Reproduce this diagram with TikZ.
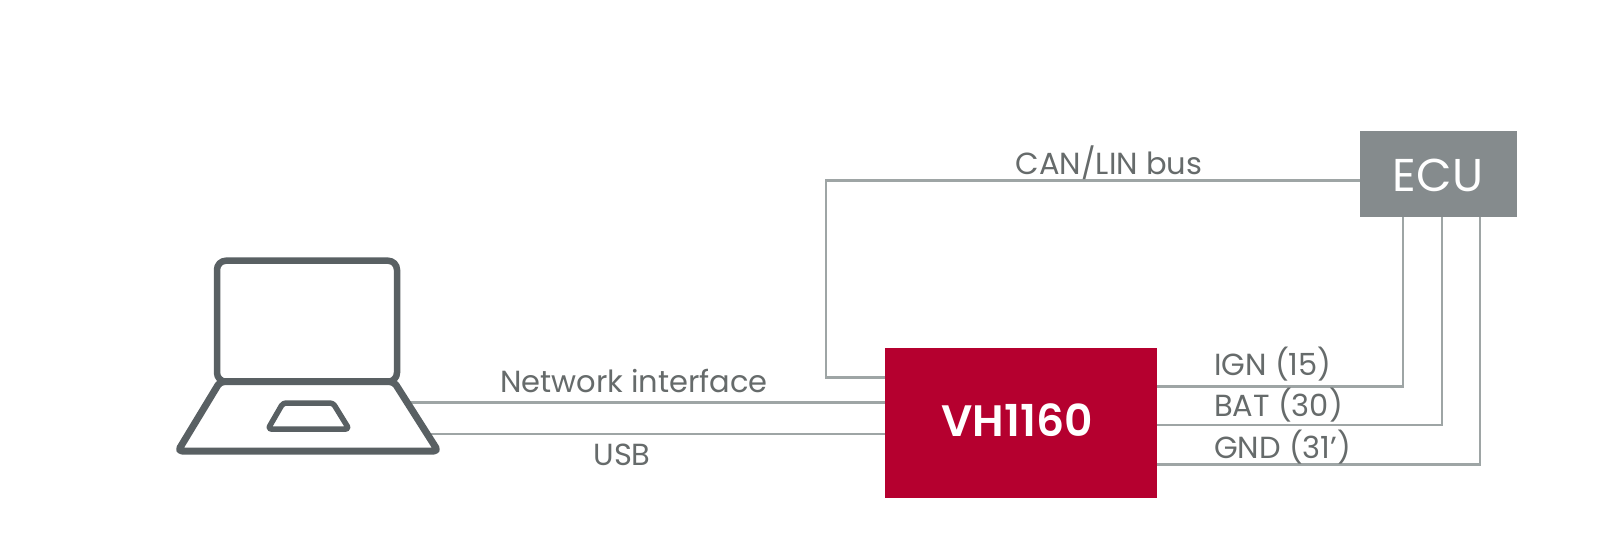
\documentclass[tikz,border=0pt]{standalone}
\usepackage{fontspec}
\setmainfont{Poppins}
\newfontfamily\semib{Poppins SemiBold}
\definecolor{vred}{HTML}{B5002F}
\definecolor{ecugray}{HTML}{858B8D}
\definecolor{wire}{HTML}{9EA5A5}
\definecolor{lap}{HTML}{596063}
\definecolor{txt}{HTML}{666B6B}
\tikzset{
  box/.style={draw=none,inner sep=0pt,outer sep=0pt,anchor=north west},
  wireline/.style={draw=wire,line width=2.4pt,line join=miter},
  laptopline/.style={draw=lap,line join=round,line cap=round},
  lab/.style={text=txt,inner sep=0pt,font=\fontsize{30.5}{33}\selectfont},
}
\begin{document}
\begin{tikzpicture}[x=1pt,y=-1pt]
\useasboundingbox (0,0) rectangle (1616,538);
\fill[white] (0,0) rectangle (1616,538);
% wire waypoints
\coordinate (canL) at (825.7,180.5);
\coordinate (canD) at (825.7,377.3);
\coordinate (ignC) at (1403,386.3);
\coordinate (batC) at (1442,424.7);
\coordinate (gndC) at (1480,464.3);
\coordinate (lapN) at (408,402.5);
\coordinate (lapU) at (428,434);
% boxes
\node[box,fill=vred,minimum width=272.5pt,minimum height=150.2pt,text=white] (vh) at (884.5,347.5) {};
\node[box,fill=ecugray,minimum width=157pt,minimum height=86.5pt] (ecu) at (1360,130.5) {};
\node[text=white,inner sep=0pt,font=\fontsize{44}{48}\semib] (vhl) at (1017,420) {VH1160};
\node[text=white,inner sep=0pt,font=\fontsize{46}{50}\selectfont] (ecul) at (1438,175) {ECU};
% wires
\draw[wireline] (ecu.west |- canL) -- (canL) -- (canD) -- (vh.west |- canD);
\draw[wireline] (lapN) -- (vh.west |- lapN);
\draw[wireline] (lapU) -- (vh.west |- lapU);
\draw[wireline] (ecu.south -| ignC) -- (ignC) -- (vh.east |- ignC);
\draw[wireline] (ecu.south -| batC) -- (batC) -- (vh.east |- batC);
\draw[wireline] (ecu.south -| gndC) -- (gndC) -- (vh.east |- gndC);
% laptop
\draw[laptopline,line width=6.5pt,rounded corners=9pt] (217,260.7) rectangle (397,381.7);
\draw[laptopline,line width=7pt,rounded corners=4pt] (220,381.7) -- (178,451) -- (438,451) -- (394,381.7) -- cycle;
\draw[laptopline,line width=5.5pt,rounded corners=3pt] (283,403) -- (333,403) -- (349,429) -- (268,429) -- cycle;
% labels
\node[lab] (l1) at (1109,163) {CAN/LIN bus};
\node[lab] (l2) at (634,381) {Network interface};
\node[lab] (l3) at (622,455) {USB};
\node[lab,anchor=west] (l4) at (1214,364) {IGN (15)};
\node[lab,anchor=west] (l5) at (1214,405) {BAT (30)};
\node[lab,anchor=west] (l6) at (1214,447) {GND (31')};
\end{tikzpicture}
\end{document}
